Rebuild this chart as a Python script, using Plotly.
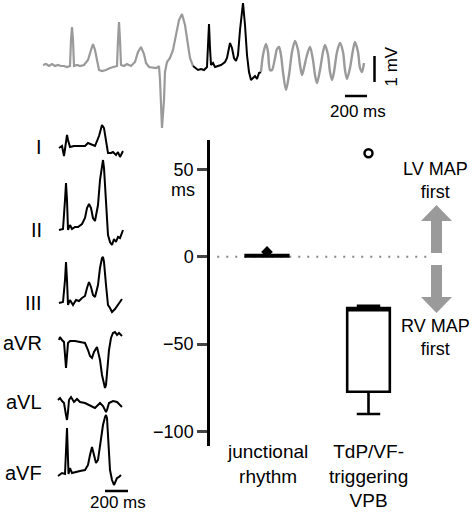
import plotly.graph_objects as go

# ---------------- data ----------------
CATEGORIES = ["junctional<br>rhythm", "TdP/VF-<br>triggering<br>VPB"]
CAT_POS = [0, 1]
# box statistics (ms): LV-MAP minus RV-MAP activation
Q1 = [0.2, -77.3]
MEDIAN = [0.6, -30.6]
Q3 = [1.0, -29.3]
LOWER = [0.2, -90.0]
UPPER = [1.0, -28.0]
MEAN_JUNCTIONAL = [2.8]
OUTLIER_TDP = [59.3]
Y_TICKS = [-100, -50, 0, 50]

# ECG traces (local trace units: x = time, y = amplitude, screen-scaled)
TOP_GRAY1_X = [43,46,49,52,55,58,61,64,67,70,71,72,73,74,77,80,84,88,91,93,95,97,99,102,106,110,114,117,118,119,120,121,124,127,131,135,138,141,144,146,149,153,156,158,159,160,162,164,165,167,170,173,176,179,182,185,188,190,193]
TOP_GRAY1_Y = [65,64,66,64,66,65,66,66,67,66,40,27,40,66,65,66,65,60,50,44,50,62,70,71,70,68,67,66,40,22,40,65,66,64,66,62,52,47,54,63,67,68,68,67,66,80,128,100,72,62,58,50,35,20,14,25,45,58,66]
TOP_BLACK_X = [193,195,198,201,204,207,208,209,210,211,213,215,218,221,225,227,229,230,232,234,236,238,240,243,245,247,249,251,253,255,257,259,261]
TOP_BLACK_Y = [66,68,70,69,70,67,48,24,48,65,63,67,66,65,62,58,48,43,48,58,61,55,30,3,25,55,72,80,78,76,79,73,72]
TOP_GRAY2_X = [261,263,266,268,270,272,275,277,279,281,283,286,289,292,295,298,300,302,304,307,310,313,315,317,320,323,325,328,330,332,334,337,340,343,345,347,350,353,355,358,360,362,364]
TOP_GRAY2_Y = [72,55,44,52,70,70,58,49,47,55,72,90,75,52,41,50,65,75,68,55,47,60,75,83,70,52,45,55,72,80,72,52,43,52,70,79,68,50,42,52,68,72,63]

LEAD_NAMES = ["I", "II", "III", "aVR", "aVL", "aVF"]
LEAD_LABEL_Y = [147, 230, 303, 343, 402, 473]
LEAD_I_X = [59,62,64,66,67,68,70,74,80,85,88,91,95,99,102,104,106,108,111,113,116,118,120,123]
LEAD_I_Y = [148,146,156,140,135,140,147,146,146,146,143,144,146,136,125,128,142,153,153,152,155,152,157,151]
LEAD_II_X = [59,63,65,66,67,68,70,72,75,78,82,85,87,89,91,93,95,98,100,102,103,104,106,108,110,112,114,116,118,120,123]
LEAD_II_Y = [230,229,200,183,200,230,225,229,227,227,224,218,208,204,208,218,221,205,180,163,160,168,200,235,242,245,239,242,237,238,230]
LEAD_III_X = [59,63,65,66,67,68,70,73,76,79,82,85,87,89,91,93,95,98,100,102,103,104,106,108,110,112,115,118,120,122]
LEAD_III_Y = [303,302,280,262,280,305,300,305,300,301,298,296,288,282,287,295,297,285,268,258,257,262,285,305,308,312,309,305,302,299]
LEAD_AVR_X = [59,60,62,64,66,68,70,75,80,85,88,90,92,94,97,100,102,104,105,106,107,109,111,113,115,117,119,122]
LEAD_AVR_Y = [340,337,340,342,368,343,341,341,342,343,350,356,358,352,347,360,375,385,388,385,370,350,338,333,332,335,333,336]
LEAD_AVL_X = [58,60,62,64,66,67,68,69,71,74,77,80,85,90,93,95,97,100,103,105,106,107,109,113,117,122]
LEAD_AVL_Y = [400,398,401,403,415,420,412,400,397,402,399,402,403,405,407,408,406,403,406,410,412,410,403,401,402,407]
LEAD_AVF_X = [58,62,65,67,68.5,70,72,75,80,85,88,90,92,94,96,98,101,103,105,106,107,108,110,112,114,117,119,121]
LEAD_AVF_Y = [476,473,474,428,474,468,473,472,471,470,465,455,447,455,463,460,440,425,417,415,418,440,470,480,485,478,477,475]
LEADS_X = [LEAD_I_X, LEAD_II_X, LEAD_III_X, LEAD_AVR_X, LEAD_AVL_X, LEAD_AVF_X]
LEADS_Y = [LEAD_I_Y, LEAD_II_Y, LEAD_III_Y, LEAD_AVR_Y, LEAD_AVL_Y, LEAD_AVF_Y]

# ---------------- figure ----------------
W, H = 474, 513
FONT = "Liberation Sans, Arial, sans-serif"
GRAY = "#9a9a9a"
fig = go.Figure()

# overlay pixel axes for ECG panels
ov = dict(xaxis="x2", yaxis="y2")
fig.add_trace(go.Scatter(x=TOP_GRAY1_X, y=TOP_GRAY1_Y, mode="lines",
                         line=dict(color=GRAY, width=2.2), hoverinfo="skip", **ov))
fig.add_trace(go.Scatter(x=TOP_BLACK_X, y=TOP_BLACK_Y, mode="lines",
                         line=dict(color="black", width=2), hoverinfo="skip", **ov))
fig.add_trace(go.Scatter(x=TOP_GRAY2_X, y=TOP_GRAY2_Y, mode="lines",
                         line=dict(color=GRAY, width=2.4, shape="spline", smoothing=0.8),
                         hoverinfo="skip", **ov))
for lx, ly in zip(LEADS_X, LEADS_Y):
    fig.add_trace(go.Scatter(x=lx, y=ly, mode="lines",
                             line=dict(color="black", width=2), hoverinfo="skip", **ov))

# box plots
for i in range(len(CAT_POS)):
    fig.add_trace(go.Box(x=[CAT_POS[i]], q1=[Q1[i]], median=[MEDIAN[i]], q3=[Q3[i]],
                         lowerfence=[LOWER[i]], upperfence=[UPPER[i]],
                         width=0.42, whiskerwidth=0.55, boxpoints=False,
                         fillcolor="white", line=dict(color="black", width=2.6),
                         xaxis="x", yaxis="y"))
fig.add_trace(go.Scatter(x=[CAT_POS[0]], y=MEAN_JUNCTIONAL, mode="markers",
                         marker=dict(symbol="diamond", size=9, color="black"),
                         xaxis="x", yaxis="y"))
fig.add_trace(go.Scatter(x=[CAT_POS[1]], y=OUTLIER_TDP, mode="markers",
                         marker=dict(symbol="circle-open", size=8, color="black",
                                     line=dict(width=2.5)),
                         xaxis="x", yaxis="y"))

shapes = []
# dotted zero line
shapes.append(dict(type="line", xref="x", yref="y", x0=-0.49, x1=1.58, y0=0, y1=0,
                   line=dict(color="#888888", width=2, dash="2px,7px"), layer="below"))
# scale bars
shapes.append(dict(type="line", xref="x2", yref="y2", x0=374.5, x1=374.5, y0=56, y1=82,
                   line=dict(color="black", width=2.5)))
shapes.append(dict(type="line", xref="x2", yref="y2", x0=345, x1=367, y0=96, y1=96,
                   line=dict(color="black", width=2.5)))
shapes.append(dict(type="line", xref="x2", yref="y2", x0=105, x1=128, y0=491, y1=491,
                   line=dict(color="black", width=2.5)))
# arrows
shapes.append(dict(type="path", xref="x2", yref="y2",
                   path="M 436.5 205 L 452 221 L 442 221 L 442 253 L 431 253 L 431 221 L 421 221 Z",
                   fillcolor=GRAY, line=dict(width=0)))
shapes.append(dict(type="path", xref="x2", yref="y2",
                   path="M 436.5 313 L 452 297 L 442 297 L 442 265 L 431 265 L 431 297 L 421 297 Z",
                   fillcolor=GRAY, line=dict(width=0)))

ann = []
for name, yy in zip(LEAD_NAMES, LEAD_LABEL_Y):
    ann.append(dict(text=name, xref="x2", yref="y2", x=44, y=yy, xanchor="right",
                    yanchor="middle", showarrow=False, font=dict(size=20)))
for cp, ct in zip(CAT_POS, CATEGORIES):
    ann.append(dict(text=ct, xref="x", yref="y2", x=cp, y=439, xanchor="center",
                    yanchor="top", showarrow=False, font=dict(size=19)))
ann.append(dict(text="ms", xref="x2", yref="y2", x=183, y=190, showarrow=False,
                font=dict(size=18)))
ann.append(dict(text="LV MAP<br>first", xref="x2", yref="y2", x=435, y=180, showarrow=False,
                font=dict(size=18)))
ann.append(dict(text="RV MAP<br>first", xref="x2", yref="y2", x=435, y=337, showarrow=False,
                font=dict(size=18)))
ann.append(dict(text="200 ms", xref="x2", yref="y2", x=358, y=111, showarrow=False,
                font=dict(size=17)))
ann.append(dict(text="200 ms", xref="x2", yref="y2", x=118, y=502, showarrow=False,
                font=dict(size=17)))
ann.append(dict(text="1 mV", xref="x2", yref="y2", x=390.5, y=67, showarrow=False,
                textangle=-90, font=dict(size=17)))

px_per_unit = 101.5
x_left = (210 - 267) / px_per_unit
x_right = (474 - 267) / px_per_unit
y_top_px, y_bot_px = 140, 446
y0_px, k = 256.8, 1.746

fig.update_layout(
    width=W, height=H, margin=dict(l=0, r=0, t=0, b=0),
    paper_bgcolor="white", plot_bgcolor="rgba(0,0,0,0)",
    showlegend=False, font=dict(family=FONT, color="black"),
    xaxis=dict(domain=[210 / W, 1], range=[x_left, x_right], showline=False,
               showticklabels=False, ticks="", showgrid=False, zeroline=False, anchor="y"),
    yaxis=dict(domain=[(H - y_bot_px) / H, (H - y_top_px) / H],
               range=[(y0_px - y_bot_px) / k, (y0_px - y_top_px) / k],
               tickvals=Y_TICKS, ticks="outside", ticklen=10, tickwidth=2.5,
               showline=True, linewidth=2.5, linecolor="black", showgrid=False,
               zeroline=False, tickfont=dict(size=18), anchor="x"),
    xaxis2=dict(domain=[0, 1], range=[0, W], visible=False, anchor="y2"),
    yaxis2=dict(domain=[0, 1], range=[H, 0], visible=False, anchor="x2"),
    shapes=shapes, annotations=ann,
)
fig.write_html("out.html")
